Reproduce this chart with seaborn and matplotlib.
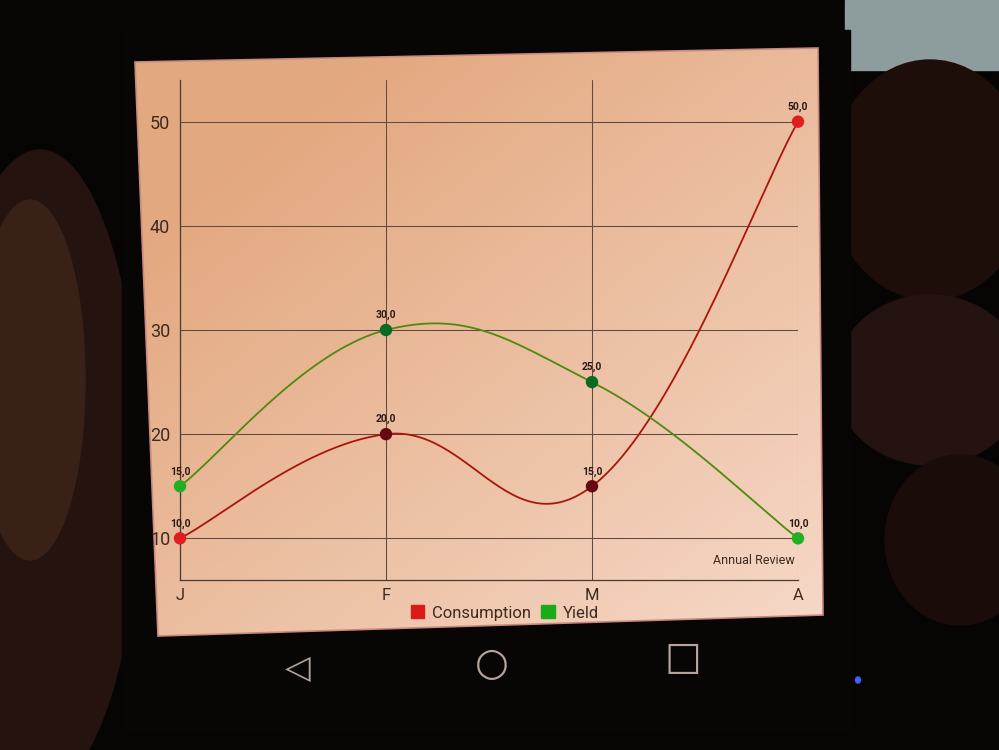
import numpy as np
import pandas as pd
import matplotlib
matplotlib.use("Agg")
import matplotlib.pyplot as plt
from matplotlib.patches import Polygon, Ellipse, Rectangle
import seaborn as sns

# ---- data ----
months = ["J", "F", "M", "A"]
consumption = [10.0, 20.0, 15.0, 50.0]
yield_vals = [15.0, 30.0, 25.0, 10.0]
y_ticks = [10, 20, 30, 40, 50]
series_names = ["Consumption", "Yield"]
description = "Annual Review"

sns.set_theme(style="white")
plt.rcParams['font.family'] = ['Roboto', 'DejaVu Sans']

fig = plt.figure(figsize=(9.99, 7.5), dpi=100)
fig.patch.set_facecolor("#070404")

W, H = 999, 750
def fx(px):
    return px / W
def fy(py):
    return 1 - py / H

# background: hand / fingers / wall
bg = fig.add_axes([0, 0, 1, 1], zorder=-10)
bg.set_xlim(0, W); bg.set_ylim(H, 0); bg.axis("off")
bg.add_patch(Rectangle((845, 0), 160, 70, color="#8d9c9c", zorder=1))
bg.add_patch(Ellipse((40, 470), 200, 640, color="#24130e", zorder=1))
bg.add_patch(Ellipse((30, 380), 110, 360, color="#3a2117", zorder=1))
bg.add_patch(Ellipse((930, 180), 200, 240, color="#1e0e0a", zorder=1))
bg.add_patch(Ellipse((930, 380), 190, 170, color="#241310", zorder=1))
bg.add_patch(Ellipse((960, 540), 150, 170, color="#1a0c09", zorder=1))
bg.add_patch(Rectangle((122, 30), 728, 700, color="#080505", zorder=2))
# screen panel with gradient
screen = Polygon([(135, 62), (818, 48), (823, 615), (158, 636)], closed=True,
                 facecolor="none", edgecolor="#c88a80", lw=1.2, zorder=4)
bg.add_patch(screen)
gx, gy = np.meshgrid(np.linspace(0, 1, 200), np.linspace(0, 1, 200))
c0 = np.array([0.89, 0.66, 0.50])
c1 = np.array([0.97, 0.86, 0.80])
t = np.clip(0.55 * gx + 0.6 * gy - 0.2, 0, 1)[..., None]
grad = c0 * (1 - t) + c1 * t
im = bg.imshow(grad, extent=(130, 825, 640, 45), aspect="auto", zorder=3)
im.set_clip_path(screen)
bg.set_xlim(0, W); bg.set_ylim(H, 0)
# navigation bar icons
bg.text(298, 668, "\u25C1", fontsize=24, color="#b4a49c", ha="center", va="center",
        family=["DejaVu Sans"], zorder=5)
bg.text(492, 664, "\u25CB", fontsize=28, color="#b4a49c", ha="center", va="center",
        family=["DejaVu Sans"], zorder=5)
bg.text(683, 658, "\u25A1", fontsize=28, color="#b4a49c", ha="center", va="center",
        family=["DejaVu Sans"], zorder=5)
bg.add_patch(Ellipse((858, 680), 5, 6, color="#4060ff", zorder=5))

# ---- chart axes ----
ax = fig.add_axes([fx(180), fy(580), fx(798) - fx(180), fy(80) - fy(580)], zorder=5)
ax.patch.set_alpha(0)

def cubic_curve(xs, ys, intensity=0.2, n=60):
    xs = np.asarray(xs, float); ys = np.asarray(ys, float)
    outx, outy = [xs[0]], [ys[0]]
    m = len(xs)
    for j in range(1, m):
        pp = max(j - 2, 0); p = j - 1; c = j; nx = min(j + 1, m - 1)
        pdx = (xs[c] - xs[pp]) * intensity; pdy = (ys[c] - ys[pp]) * intensity
        cdx = (xs[nx] - xs[p]) * intensity; cdy = (ys[nx] - ys[p]) * intensity
        P0 = np.array([xs[p], ys[p]]); P1 = np.array([xs[p] + pdx, ys[p] + pdy])
        P2 = np.array([xs[c] - cdx, ys[c] - cdy]); P3 = np.array([xs[c], ys[c]])
        tt = np.linspace(0, 1, n)[1:, None]
        B = ((1 - tt) ** 3) * P0 + 3 * ((1 - tt) ** 2) * tt * P1 + 3 * (1 - tt) * tt ** 2 * P2 + tt ** 3 * P3
        outx.extend(B[:, 0]); outy.extend(B[:, 1])
    return np.array(outx), np.array(outy)

xpos = np.arange(len(months))
line_colors = {"Consumption": "#a8160c", "Yield": "#4e8a0e"}
point_colors = {"Consumption": ["#e01e1e", "#640a10", "#640a10", "#e01e1e"],
                "Yield": ["#22b022", "#0a6a22", "#0a6a22", "#22b022"]}
legend_colors = {"Consumption": "#dd1a1a", "Yield": "#1aaa1a"}

for name, vals in zip(series_names, [consumption, yield_vals]):
    cx, cy = cubic_curve(xpos, vals)
    df = pd.DataFrame({"x": cx, "y": cy})
    sns.lineplot(data=df, x="x", y="y", ax=ax, sort=False, color=line_colors[name],
                 lw=1.3, zorder=3, estimator=None)
    pts = pd.DataFrame({"x": xpos, "y": vals})
    sns.scatterplot(data=pts, x="x", y="y", ax=ax, color=point_colors[name],
                    s=80, edgecolor="none", zorder=4, legend=False, clip_on=False)
    for xv, yv in zip(xpos, vals):
        ax.annotate(f"{yv:.1f}".replace(".", ","), (xv, yv), xytext=(0, 7),
                    textcoords="offset points", ha="center", va="bottom",
                    fontsize=7.5, color="#2e1a12", fontweight="bold", zorder=6)

ax.set_xlim(0, 3)
ax.set_ylim(6, 54)
ax.set_xticks(xpos)
ax.set_xticklabels(months)
ax.set_yticks(y_ticks)
ax.set_xlabel(""); ax.set_ylabel("")
ax.tick_params(axis="x", length=0, pad=6, labelsize=12, labelcolor="#3e2a20")
ax.tick_params(axis="y", length=0, pad=7, labelsize=13, labelcolor="#3e2a20")
ax.grid(True, color="#5e4a40", lw=0.75)
for s in ["top", "right"]:
    ax.spines[s].set_visible(False)
for s in ["left", "bottom"]:
    ax.spines[s].set_color("#4a3a30"); ax.spines[s].set_linewidth(0.9)

ax.text(0.995, 0.025, description, transform=ax.transAxes, ha="right", va="bottom",
        fontsize=9, color="#3e2a20", zorder=6)

handles = [Rectangle((0, 0), 1, 1, color=legend_colors[n]) for n in series_names]
fig.legend(handles, series_names, loc="center", bbox_to_anchor=(fx(505), fy(613)),
           ncol=2, frameon=False, fontsize=12, handlelength=0.8, handleheight=0.8,
           handletextpad=0.5, columnspacing=0.6, labelcolor="#3e2a20")

fig.savefig("out.png", dpi=100, facecolor=fig.get_facecolor())
